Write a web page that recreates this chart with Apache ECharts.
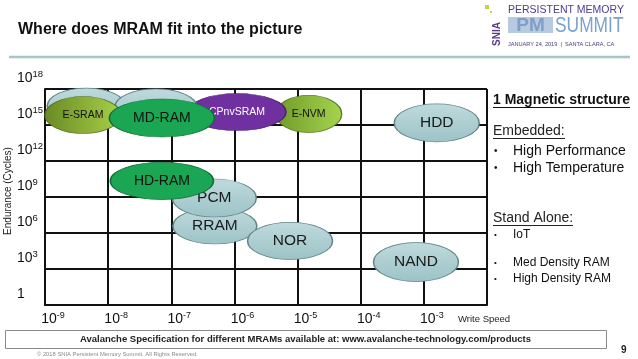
<!DOCTYPE html>
<html><head><meta charset="utf-8">
<script src="https://cdn.jsdelivr.net/npm/echarts@6/dist/echarts.min.js"></script>
<style>html,body{margin:0;padding:0;background:#fff}#c{width:638px;height:359px}</style>
</head><body><div id="c"></div>
<script>
// ---- data ----
const shapeIds   = ['E-NVM','CPnvSRAM','bg1','bg2','E-SRAM','MD-RAM','HDD','RRAM','PCM','HD-RAM','NOR','NAND'];
const labels     = ['E-NVM','CPnvSRAM','','','E-SRAM','MD-RAM','HDD','RRAM','PCM','HD-RAM','NOR','NAND'];
const writeSpeed = [1.5e-5, 1.1e-6, 4.5e-9, 5.7e-8, 4.0e-9, 7.1e-8, 1.6e-3, 4.9e-7, 4.8e-7, 7.1e-8, 7.6e-6, 7.5e-4];
const endurance  = [8.3e15, 1.2e16, 3.8e16, 3.2e16, 6.8e15, 3.8e15, 1.5e15, 3.8e6, 8.3e8, 2.2e10, 2.2e5, 3.8e3];
const xTickExp = [-9,-8,-7,-6,-5,-4,-3];
const yTickExp = [0,3,6,9,12,15,18];

// ---- styles ----
const FONT = '"Liberation Sans", Arial, sans-serif';
const ELLIPSE = 'path://M50,0A50,50,0,1,1,50,100A50,50,0,1,1,50,0Z';
const hgrad = (a,b)=>({type:'linear',x:0,y:0,x2:1,y2:0,colorStops:[{offset:0,color:a},{offset:1,color:b}]});
const vgrad = (a,b)=>({type:'linear',x:0,y:0,x2:0,y2:1,colorStops:[{offset:0,color:a},{offset:1,color:b}]});
const TEAL = vgrad('#bfdadc','#9cc3c7');
const looks = {
  'E-NVM':   {size:[66,37], fill:hgrad('#6f9a28','#a6d44e'), border:'#587a22', font:10.5, color:'#111'},
  'CPnvSRAM':{size:[98,37], fill:'#7030a0', border:'#4e2172', font:10.5, color:'#fff'},
  'bg1':     {size:[78,36], fill:TEAL, border:'#5f8487', font:10, color:'#111'},
  'bg2':     {size:[82,36], fill:TEAL, border:'#5f8487', font:10, color:'#111'},
  'E-SRAM':  {size:[76,37], fill:hgrad('#6a8a24','#a8d04a'), border:'#566f22', font:10.5, color:'#111'},
  'MD-RAM':  {size:[105,38], fill:'#1ba653', border:'#0e6e36', font:14, color:'#111'},
  'HDD':     {size:[85,38], fill:TEAL, border:'#5f8487', font:15.5, color:'#1a1a1a'},
  'RRAM':    {size:[84,36], fill:TEAL, border:'#5f8487', font:15.5, color:'#1a1a1a'},
  'PCM':     {size:[84,38], fill:TEAL, border:'#5f8487', font:15.5, color:'#1a1a1a'},
  'HD-RAM':  {size:[103,37], fill:'#1ba653', border:'#0e6e36', font:14, color:'#111'},
  'NOR':     {size:[85,37], fill:TEAL, border:'#5f8487', font:15.5, color:'#1a1a1a'},
  'NAND':    {size:[85,39], fill:TEAL, border:'#5f8487', font:15.5, color:'#1a1a1a'}
};

const expOf = v => Math.round(Math.log10(v));
const powLabel = e => e === 0 ? '{b|1}' : '{b|10}{s|' + e + '}';

const series = shapeIds.map((id, i) => ({
  type: 'scatter', z: 3 + i, silent: true, animation: false,
  symbol: ELLIPSE, symbolSize: looks[id].size,
  data: [{ value: [writeSpeed[i], endurance[i]], name: labels[i] }],
  itemStyle: { color: looks[id].fill, borderColor: looks[id].border, borderWidth: 1, opacity: 1 },
  label: { show: !!labels[i], position: 'inside', formatter: labels[i],
           fontSize: looks[id].font, color: looks[id].color, fontFamily: FONT },
  emphasis: { disabled: true }
}));

const txt = (x, y, text, font, fill, align, extra) => Object.assign(
  { type: 'text', x: x, y: y, silent: true,
    style: { text: text, font: font, fill: fill || '#111', align: align || 'left', verticalAlign: 'middle' } }, extra || {});
const uline = (x1, x2, y, c) => ({ type: 'line', silent: true,
  shape: { x1: x1, y1: y, x2: x2, y2: y }, style: { stroke: c || '#222', lineWidth: 1 } });

const graphic = [
  txt(18, 30, 'Where does MRAM fit into the picture', 'bold 16px ' + FONT, '#111'),
  { type: 'line', silent: true, shape: { x1: 9, y1: 57, x2: 630, y2: 57 }, style: { stroke: '#a6c4ca', lineWidth: 2.5 } },
  // logo
  { type: 'rect', silent: true, shape: { x: 485, y: 5, width: 4, height: 4 }, style: { fill: '#c5d33f' } },
  { type: 'rect', silent: true, shape: { x: 490, y: 11, width: 2, height: 2 }, style: { fill: '#c5d33f' } },
  txt(497, 34, 'SNIA', 'bold 10px ' + FONT, '#5a3c8c', 'center', { rotation: Math.PI / 2 }),
  txt(508, 10, 'PERSISTENT MEMORY', '10.5px ' + FONT, '#4e3a8c'),
  { type: 'rect', silent: true, shape: { x: 508, y: 17, width: 45, height: 16 }, style: { fill: '#b8cadf' } },
  txt(530.5, 25.5, 'PM', 'bold 19px ' + FONT, '#7f9fc7', 'center'),
  txt(555, 25.5, 'SUMMIT', '22px ' + FONT, '#7aa2cd', 'left', { scaleX: 0.79 }),
  txt(508, 44, 'JANUARY 24, 2019  |  SANTA CLARA, CA', '5.6px ' + FONT, '#4a3a7a'),
  // right panel
  txt(493, 100, '1 Magnetic structure', 'bold 14px ' + FONT, '#111'),
  uline(493, 630, 107.5, '#111'),
  txt(493, 131, 'Embedded:', '14px ' + FONT, '#222'),
  uline(493, 565, 138.5),
  txt(494, 151, '•', '10px ' + FONT, '#111'), txt(513, 151, 'High Performance', '14px ' + FONT, '#111'),
  txt(494, 168, '•', '10px ' + FONT, '#111'), txt(513, 168, 'High Temperature', '14px ' + FONT, '#111'),
  txt(493, 218, 'Stand Alone:', '14px ' + FONT, '#222'),
  uline(493, 573, 225.5),
  txt(494, 235, '•', '8px ' + FONT, '#111'), txt(513, 235, 'IoT', '12px ' + FONT, '#111'),
  txt(494, 263, '•', '8px ' + FONT, '#111'), txt(513, 263, 'Med Density RAM', '12px ' + FONT, '#111'),
  txt(494, 279, '•', '8px ' + FONT, '#111'), txt(513, 279, 'High Density RAM', '12px ' + FONT, '#111'),
  // footer
  { type: 'rect', silent: true, shape: { x: 5.5, y: 330.5, width: 601, height: 18 }, style: { fill: '#fff', stroke: '#8a8a8a', lineWidth: 1 } },
  txt(305.5, 339.5, 'Avalanche Specification for different MRAMs available at: www.avalanche-technology.com/products', 'bold 9.5px ' + FONT, '#222', 'center'),
  txt(37, 354, '© 2018 SNIA Persistent Memory Summit. All Rights Reserved.', '5.8px ' + FONT, '#8a8a8a'),
  txt(621, 350, '9', 'bold 10px ' + FONT, '#222')
];

const chart = echarts.init(document.getElementById('c'), null, { renderer: 'canvas' });
chart.setOption({
  animation: false,
  backgroundColor: '#fff',
  grid: { left: 45, right: 151, top: 89, bottom: 54, containLabel: false, outerBoundsMode: 'none' },
  xAxis: {
    type: 'log', logBase: 10, min: 1e-9, max: 1e-2,
    name: 'Write Speed', nameLocation: 'end', nameGap: -29, nameMoveOverlap: false,
    nameTextStyle: { fontSize: 9.5, color: '#222', fontFamily: FONT, align: 'left', verticalAlign: 'top', padding: [9, 0, 0, 0] },
    axisLine: { lineStyle: { color: '#111', width: 2 } },
    axisTick: { show: false },
    splitLine: { show: true, lineStyle: { color: '#111', width: 2 } },
    axisLabel: {
      margin: 6, padding: [0, 0, 0, 16], color: '#111',
      formatter: v => { const e = expOf(v); return xTickExp.indexOf(e) >= 0 ? powLabel(e) : ''; },
      rich: { b: { fontSize: 14, fontFamily: FONT, color: '#111', lineHeight: 17 },
              s: { fontSize: 9, fontFamily: FONT, color: '#111', lineHeight: 17, verticalAlign: 'top' } }
    }
  },
  yAxis: {
    type: 'log', logBase: 1000, min: 1, max: 1e18,
    name: 'Endurance (Cycles)', nameLocation: 'middle', nameGap: 32, nameMoveOverlap: false,
    nameTextStyle: { fontSize: 10, color: '#222', fontFamily: FONT, padding: [0, 0, 0, 12] },
    axisLine: { show: true, lineStyle: { color: '#111', width: 2 } },
    axisTick: { show: false },
    splitLine: { show: true, lineStyle: { color: '#111', width: 2 } },
    axisLabel: {
      margin: 28, align: 'left', verticalAlign: 'middle', padding: [0, 0, 22, 0],
      formatter: v => { const e = expOf(v); return yTickExp.indexOf(e) >= 0 ? powLabel(e) : ''; },
      rich: { b: { fontSize: 14, fontFamily: FONT, color: '#111', lineHeight: 17 },
              s: { fontSize: 9.5, fontFamily: FONT, color: '#111', lineHeight: 17, verticalAlign: 'top' } }
    }
  },
  series: series,
  graphic: graphic
});
</script></body></html>
